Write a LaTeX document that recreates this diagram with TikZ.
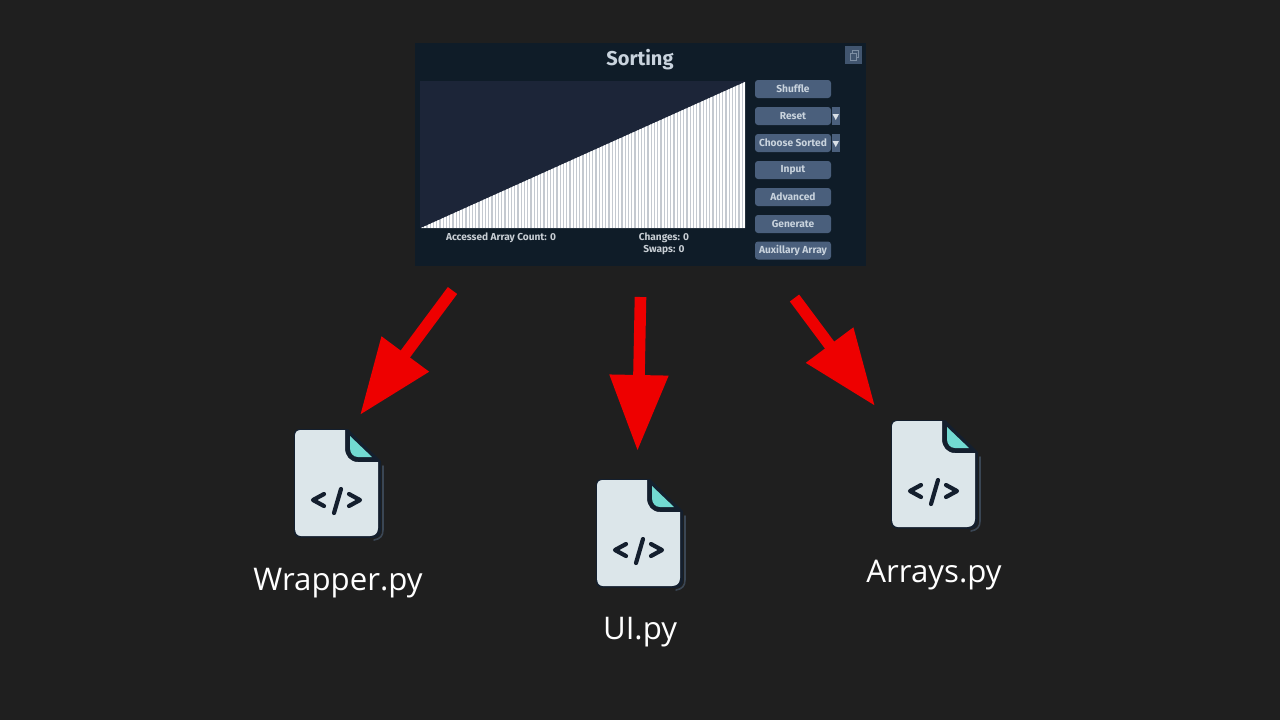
\documentclass[tikz,border=0pt]{standalone}
\usepackage{fontspec}
\setmainfont{Open Sans}
\newfontfamily\uifont{Fira Sans}
\usetikzlibrary{arrows.meta}
\definecolor{bgc}{HTML}{1F1F1F}
\definecolor{panelc}{HTML}{0F1C28}
\definecolor{plotc}{HTML}{1C2538}
\definecolor{btnc}{HTML}{4A5F7C}
\definecolor{btntxt}{HTML}{C9D3DD}
\definecolor{lbl}{HTML}{C8CED4}
\definecolor{stripe}{HTML}{C4C9D0}
\definecolor{paper}{HTML}{DCE6EA}
\definecolor{inkc}{HTML}{141F2E}
\definecolor{teal}{HTML}{72DAD2}
\definecolor{edgec}{HTML}{3A4654}
\definecolor{arrowred}{HTML}{EE0000}
\tikzset{
  x=0.5pt,y=-0.5pt,
  uibtn/.style={fill=btnc,rounded corners=1.5pt,draw=none,minimum width=38pt,minimum height=9pt,inner sep=0pt,text=btntxt,font=\uifont\fontsize{5.1}{6}\selectfont\bfseries},
  dropbox/.style={fill=btnc,draw=none,minimum width=4.3pt,minimum height=9pt,inner sep=0pt},
  countlbl/.style={inner sep=0pt,text=lbl,font=\uifont\fontsize{5.05}{6}\selectfont\bfseries},
  filelbl/.style={inner sep=0pt,text=white,font=\fontsize{15.6}{18}\selectfont},
  redarrow/.style={draw=arrowred,line width=5.8pt,-{Triangle[length=38pt,width=28pt]}},
  codeglyph/.style={draw=inkc,line width=2.1pt,line cap=round,line join=round},
  pics/codefile/.style={code={
    \draw[edgec,line width=0.8pt,line cap=round] (88,36) -- (88,100) .. controls (88,106) and (85,109) .. (79,110);
    \fill[inkc] (-1,5) .. controls (-1,1) and (1,-1) .. (5,-1) -- (53,-1) -- (86,31) -- (86,100)
       .. controls (86,105) and (83,108) .. (78,108) -- (5,107.5) .. controls (1,107.5) and (-1,104) .. (-1,101) -- cycle;
    \fill[paper] (0,6) .. controls (0,2) and (2,0) .. (6,0) -- (50,0) -- (50,18)
       .. controls (50,26) and (55,32) .. (63,32) -- (83,32) -- (83,98)
       .. controls (83,103) and (80,106) .. (75,106) -- (6,106)
       .. controls (2,106) and (0,103) .. (0,98) -- cycle;
    \fill[teal] (55,6) -- (77,27) -- (63,27) .. controls (58,27) and (55,23) .. (55,18) -- cycle;
    \draw[codeglyph] (29,64) -- (18,70) -- (29,76);
    \draw[codeglyph] (46,59) -- (39,83);
    \draw[codeglyph] (54,64) -- (65,70) -- (54,76);
  }}
}
\begin{document}
\begin{tikzpicture}
\useasboundingbox (0,0) rectangle (1280,720);
\fill[bgc] (0,0) rectangle (1280,720);
\node[fill=panelc,draw=none,inner sep=0pt,minimum width=225.5pt,minimum height=111.5pt] (panel) at (640.5,154.5) {};
\fill[plotc] (420,81) rectangle (745,228);
\fill[stripe] (421,228) -- (745,82) -- (745,228) -- cycle;
\begin{scope}
\clip (421,228) -- (745,82) -- (745,228) -- cycle;
\foreach \i in {0,...,99}{
  \pgfmathsetmacro{\xa}{421+\i*3.25}
  \pgfmathsetmacro{\xb}{\xa+2.2}
  \fill[white] (\xa,228) rectangle (\xb,80);
}
\end{scope}
\node[inner sep=0pt,text=btntxt,font=\uifont\fontsize{10}{12}\selectfont\bfseries] (title) at (640,60) {Sorting};
\node[fill=btnc!85!panelc,draw=none,minimum width=8.5pt,minimum height=9pt,inner sep=0pt] (expand) at (853.5,55) {};
\draw[btnc!60!btntxt,line width=0.35pt] (850,53) rectangle (856,60) (852,53) -- (852,50.5) -- (858,50.5) -- (858,57) -- (856,57);
\node[uibtn] (b1) at (793,89) {Shuffle};
\node[uibtn] (b2) at (793,116) {Reset};
\node[uibtn] (b3) at (793,143) {Choose Sorted};
\node[uibtn] (b4) at (793,170) {Input};
\node[uibtn] (b5) at (793,197) {Advanced};
\node[uibtn] (b6) at (793,224) {Generate};
\node[uibtn] (b7) at (793,250.5) {Auxillary Array};
\node[dropbox] (d2) at (836,116) {};
\node[dropbox] (d3) at (836,143) {};
\fill[btntxt!70!white] (832.5,114) -- (839,114) -- (835.75,120) -- cycle;
\fill[btntxt!70!white] (832.5,141) -- (839,141) -- (835.75,147) -- cycle;
\node[countlbl] (c1) at (501,237.5) {Accessed Array Count: 0};
\node[countlbl] (c2) at (664,237.5) {Changes: 0};
\node[countlbl] (c3) at (664,250.5) {Swaps: 0};
\pic at (295,430) {codefile};
\pic at (597,480) {codefile};
\pic at (892,421) {codefile};
\node[filelbl] (wrap) at (338,583) {Wrapper.py};
\node[filelbl] (ui) at (640,632) {UI.py};
\node[filelbl] (arr) at (934,575) {Arrays.py};
\coordinate (a1s) at (452.5,290.5);
\coordinate (a1e) at (360,415);
\coordinate (a2s) at (640.5,297);
\coordinate (a2e) at (637.5,451);
\coordinate (a3s) at (794.5,298);
\coordinate (a3e) at (875,406);
\draw[redarrow] (a1s) -- (a1e);
\draw[redarrow] (a2s) -- (a2e);
\draw[redarrow] (a3s) -- (a3e);
\end{tikzpicture}
\end{document}
